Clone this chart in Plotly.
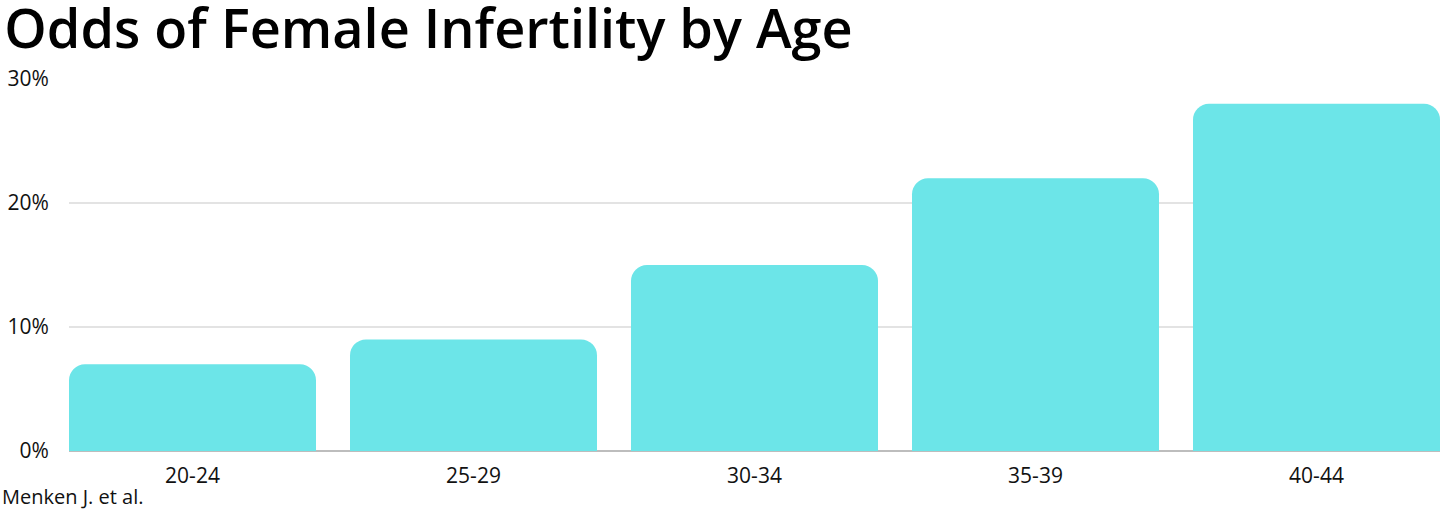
import plotly.graph_objects as go

categories = ["20-24", "25-29", "30-34", "35-39", "40-44"]
odds_pct = [7, 9, 15, 22, 28]
y_ticks = [0, 10, 20, 30]
y_tick_labels = ["0%", "10%", "20%", "30%"]

title_text = "Odds of Female Infertility by Age"
source_text = "Menken J. et al."

FONT = "Open Sans"

fig = go.Figure(
    go.Bar(
        x=categories,
        y=odds_pct,
        marker=dict(color="#6CE5E8", cornerradius=16, line=dict(width=0)),
        hoverinfo="x+y",
    )
)

fig.update_layout(
    width=1440,
    height=513,
    margin=dict(l=69, r=0, t=79, b=62),
    paper_bgcolor="white",
    plot_bgcolor="white",
    bargap=0.121,
    showlegend=False,
    font=dict(family=FONT, color="#111111", size=20),
    title=dict(
        text=title_text,
        xref="container",
        yref="container",
        x=0.003,
        xanchor="left",
        y=1 - 29 / 513,
        yanchor="middle",
        pad=dict(t=0, b=0, l=0, r=0),
        font=dict(family=FONT, size=54, color="#000000", weight=600),
    ),
    xaxis=dict(
        range=[-0.4395, 4.4395],
        showgrid=False,
        showline=False,
        zeroline=False,
        ticks="outside",
        ticklen=6,
        tickcolor="rgba(0,0,0,0)",
        tickfont=dict(family=FONT, size=21, color="#111111", weight=500),
        fixedrange=True,
    ),
    yaxis=dict(
        range=[0, 30],
        tickvals=y_ticks,
        ticktext=y_tick_labels,
        showgrid=True,
        gridcolor="#e3e3e3",
        gridwidth=1.5,
        zeroline=True,
        zerolinecolor="#bdbdbd",
        zerolinewidth=1.5,
        showline=False,
        ticks="outside",
        ticklen=15,
        tickcolor="rgba(0,0,0,0)",
        tickfont=dict(family=FONT, size=21, color="#111111", weight=500),
        fixedrange=True,
    ),
    annotations=[
        dict(
            text=source_text,
            xref="paper",
            yref="paper",
            x=-69 / 1371,
            xanchor="left",
            y=-46 / 372,
            yanchor="middle",
            showarrow=False,
            font=dict(family=FONT, size=20, color="#111111"),
        )
    ],
)

fig.write_html(
    "out.html",
    config={"displayModeBar": False},
    post_script="document.body.style.margin='0';document.body.style.overflow='hidden';",
)
